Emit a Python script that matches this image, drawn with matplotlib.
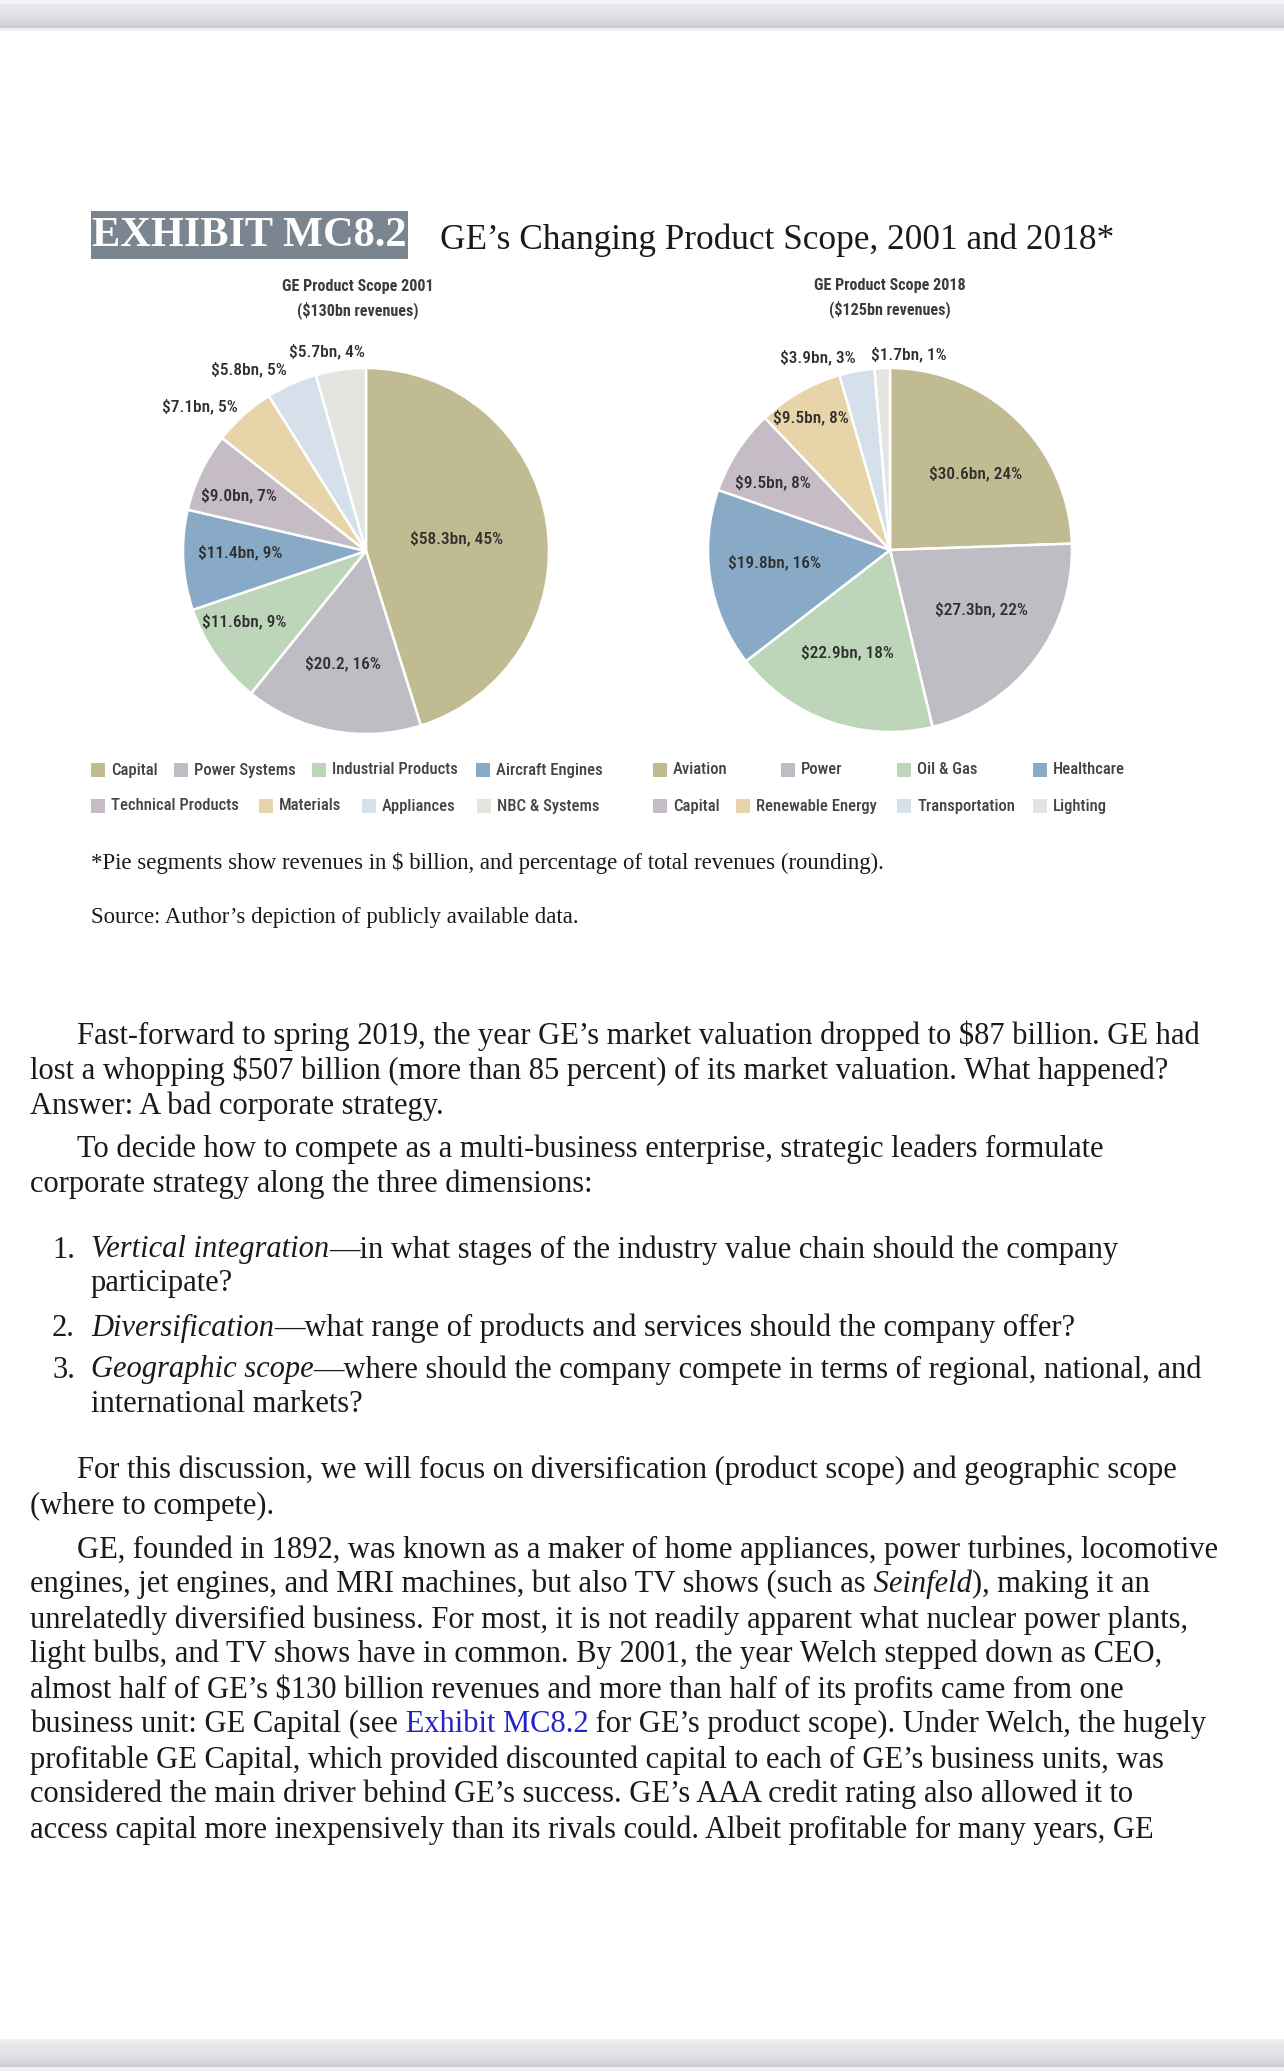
import numpy as np
import matplotlib
matplotlib.use('Agg')
import matplotlib.pyplot as plt
from matplotlib import font_manager as fm
from matplotlib.patches import Rectangle
from matplotlib.colors import LinearSegmentedColormap

plt.rcParams['text.parse_math'] = False

W, H = 1284, 2071

# ---- data ----
cats_2001 = ['Capital', 'Power Systems', 'Industrial Products', 'Aircraft Engines',
             'Technical Products', 'Materials', 'Appliances', 'NBC & Systems']
rev_2001 = [58.3, 20.2, 11.6, 11.4, 9.0, 7.1, 5.8, 5.7]
pct_2001 = [45, 16, 9, 9, 7, 5, 5, 4]

cats_2018 = ['Aviation', 'Power', 'Oil & Gas', 'Healthcare', 'Capital',
             'Renewable Energy', 'Transportation', 'Lighting']
rev_2018 = [30.6, 27.3, 22.9, 19.8, 9.5, 9.5, 3.9, 1.7]
pct_2018 = [24, 22, 18, 16, 8, 8, 3, 1]

labels_2001 = ['$%sbn, %d%%' % (v, p) for v, p in zip(rev_2001, pct_2001)]
labels_2001[1] = '$20.2, 16%'   # as printed in the exhibit
labels_2018 = ['$%sbn, %d%%' % (v, p) for v, p in zip(rev_2018, pct_2018)]

colors = ['#c0bb91', '#bdbdc3', '#bdd6b9', '#88aac7',
          '#c5bcc5', '#e7d4a9', '#d6e0ea', '#e4e4e0']

# label placement (radius factor, angle tweak in degrees)
lab_r_2001 = [0.50, 0.63, 0.77, 0.69, 0.76, 1.20, 1.18, 1.11]
lab_da_2001 = [-1, -1, -5, -2, 2, 7, 9, 3]
lab_r_2018 = [0.63, 0.60, 0.61, 0.64, 0.74, 0.85, 1.13, 1.08]
lab_da_2018 = [-4, 4, -3, -3, 3, 1, 10, -8]

# ---- fonts ----
names = {f.name for f in fm.fontManager.ttflist}
SERIF = 'Liberation Serif'
COND = None
for n in ['Roboto Condensed', 'Liberation Sans Narrow', 'Open Sans Condensed']:
    if n in names:
        COND = n
        break
cond_kw = {'family': COND} if COND else {'family': 'DejaVu Sans', 'fontstretch': 'condensed'}

fig = plt.figure(figsize=(W / 100, H / 100), dpi=100)
fig.patch.set_facecolor('white')
bg = fig.add_axes([0, 0, 1, 1])
bg.axis('off')

# top and bottom bars
grad = np.linspace(0, 1, 60).reshape(-1, 1)
cm = LinearSegmentedColormap.from_list('bar', ['#e9e8ec', '#e3e2e7', '#cdccd2'])
bg.imshow(grad, extent=[0, W, 28, 4], cmap=cm, aspect='auto', origin='upper')
bg.imshow(grad, extent=[0, W, 2067, 2043], cmap=cm, aspect='auto', origin='upper')
bg.add_patch(Rectangle((0, 0), W, 4, color='#f2f1f4', lw=0))
bg.add_patch(Rectangle((0, 28), W, 3, color='#efeef2', lw=0))
bg.add_patch(Rectangle((0, 2039), W, 4, color='#efeef2', lw=0))
bg.add_patch(Rectangle((0, 2067), W, 4, color='#f2f1f4', lw=0))
bg.set_xlim(0, W)
bg.set_ylim(H, 0)

# exhibit header
bg.add_patch(Rectangle((91, 211), 317, 48, color='#7b8590', lw=0))
bg.text(249.5, 236, 'EXHIBIT MC8.2', family=SERIF, weight='bold', fontsize=30.5,
        color='white', ha='center', va='center')
bg.text(440, 240, 'GE\u2019s Changing Product Scope, 2001 and 2018*', family=SERIF,
        fontsize=25.4, color='#1a1a1a', ha='left', va='center')


def draw_pie(cx, cy, r, vals, labels, lr, lda, title, tdx):
    ax = fig.add_axes([(cx - r) / W, 1 - (cy + r) / H, 2 * r / W, 2 * r / H])
    wedges, _ = ax.pie(vals, colors=colors, startangle=90, counterclock=False,
                       wedgeprops=dict(edgecolor='white', linewidth=1.8))
    ax.set_xlim(-1, 1)
    ax.set_ylim(-1, 1)
    ax.set_aspect('equal')
    ax.axis('off')
    for w, lab, f, da in zip(wedges, labels, lr, lda):
        a = np.deg2rad((w.theta1 + w.theta2) / 2 + da)
        ax.text(f * np.cos(a), f * np.sin(a), lab, ha='center', va='center',
                fontsize=12.5, weight='medium', color='#2e2e2e', **cond_kw)
    bg.text(cx + tdx, cy - 252, title, ha='center', va='center', fontsize=11.6,
            weight='bold', color='#3c3c3c', linespacing=1.45, **cond_kw)


draw_pie(366, 551, 183, rev_2001, labels_2001, lab_r_2001, lab_da_2001,
         'GE Product Scope 2001\n($130bn revenues)', -8)
draw_pie(890, 550, 182, rev_2018, labels_2018, lab_r_2018, lab_da_2018,
         'GE Product Scope 2018\n($125bn revenues)', 0)

# legends
leg_x = [[91, 174, 312, 476], [91, 259, 362, 477],
         [653, 781, 897, 1033], [653, 736, 897, 1033]]
leg_y = [770, 806, 770, 806]
leg_items = [cats_2001[:4], cats_2001[4:], cats_2018[:4], cats_2018[4:]]
leg_cols = [colors[:4], colors[4:], colors[:4], colors[4:]]
for xs, y, items, cols in zip(leg_x, leg_y, leg_items, leg_cols):
    for x, name, c in zip(xs, items, cols):
        bg.add_patch(Rectangle((x, y - 7), 14, 14, color=c, lw=0))
        bg.text(x + 20, y, name, ha='left', va='center', fontsize=12,
                weight='medium', color='#444444', **cond_kw)

# footnotes
bg.text(91, 863, '*Pie segments show revenues in $ billion, and percentage of total revenues (rounding).',
        family=SERIF, fontsize=16.4, color='#1a1a1a', va='center')
bg.text(91, 918, 'Source: Author\u2019s depiction of publicly available data.',
        family=SERIF, fontsize=16.4, color='#1a1a1a', va='center')

# body text
renderer = fig.canvas.get_renderer()
BODY = 22
INK = '#1a1a1a'
LINK = '#2323c8'


def line(x, y, parts):
    for s, style, col in parts:
        t = bg.text(x, y, s, family=SERIF, style=style, color=col, fontsize=BODY,
                    ha='left', va='center')
        x += t.get_window_extent(renderer=renderer).width


N = 'normal'
I = 'italic'
body = [
    (77, 1036, [('Fast-forward to spring 2019, the year GE\u2019s market valuation dropped to $87 billion. GE had', N, INK)]),
    (30, 1071, [('lost a whopping $507 billion (more than 85 percent) of its market valuation. What happened?', N, INK)]),
    (30, 1106, [('Answer: A bad corporate strategy.', N, INK)]),
    (77, 1149, [('To decide how to compete as a multi-business enterprise, strategic leaders formulate', N, INK)]),
    (30, 1184, [('corporate strategy along the three dimensions:', N, INK)]),
    (52, 1250, [('1.', N, INK)]),
    (91, 1250, [('Vertical integration', I, INK), ('\u2014in what stages of the industry value chain should the company', N, INK)]),
    (91, 1284, [('participate?', N, INK)]),
    (52, 1328, [('2.', N, INK)]),
    (91, 1328, [('Diversification', I, INK), ('\u2014what range of products and services should the company offer?', N, INK)]),
    (52, 1370, [('3.', N, INK)]),
    (91, 1370, [('Geographic scope', I, INK), ('\u2014where should the company compete in terms of regional, national, and', N, INK)]),
    (91, 1404, [('international markets?', N, INK)]),
    (77, 1470, [('For this discussion, we will focus on diversification (product scope) and geographic scope', N, INK)]),
    (30, 1506, [('(where to compete).', N, INK)]),
    (77, 1550, [('GE, founded in 1892, was known as a maker of home appliances, power turbines, locomotive', N, INK)]),
    (30, 1584, [('engines, jet engines, and MRI machines, but also TV shows (such as', N, INK), (' Seinfeld', I, INK), ('), making it an', N, INK)]),
    (30, 1620, [('unrelatedly diversified business. For most, it is not readily apparent what nuclear power plants,', N, INK)]),
    (30, 1654, [('light bulbs, and TV shows have in common. By 2001, the year Welch stepped down as CEO,', N, INK)]),
    (30, 1690, [('almost half of GE\u2019s $130 billion revenues and more than half of its profits came from one', N, INK)]),
    (30, 1724, [('business unit: GE Capital (see', N, INK), (' Exhibit MC8.2', N, LINK), (' for GE\u2019s product scope). Under Welch, the hugely', N, INK)]),
    (30, 1760, [('profitable GE Capital, which provided discounted capital to each of GE\u2019s business units, was', N, INK)]),
    (30, 1794, [('considered the main driver behind GE\u2019s success. GE\u2019s AAA credit rating also allowed it to', N, INK)]),
    (30, 1830, [('access capital more inexpensively than its rivals could. Albeit profitable for many years, GE', N, INK)]),
]
for x, y, parts in body:
    line(x, y, parts)

fig.savefig('out.png', dpi=100, facecolor='white')
